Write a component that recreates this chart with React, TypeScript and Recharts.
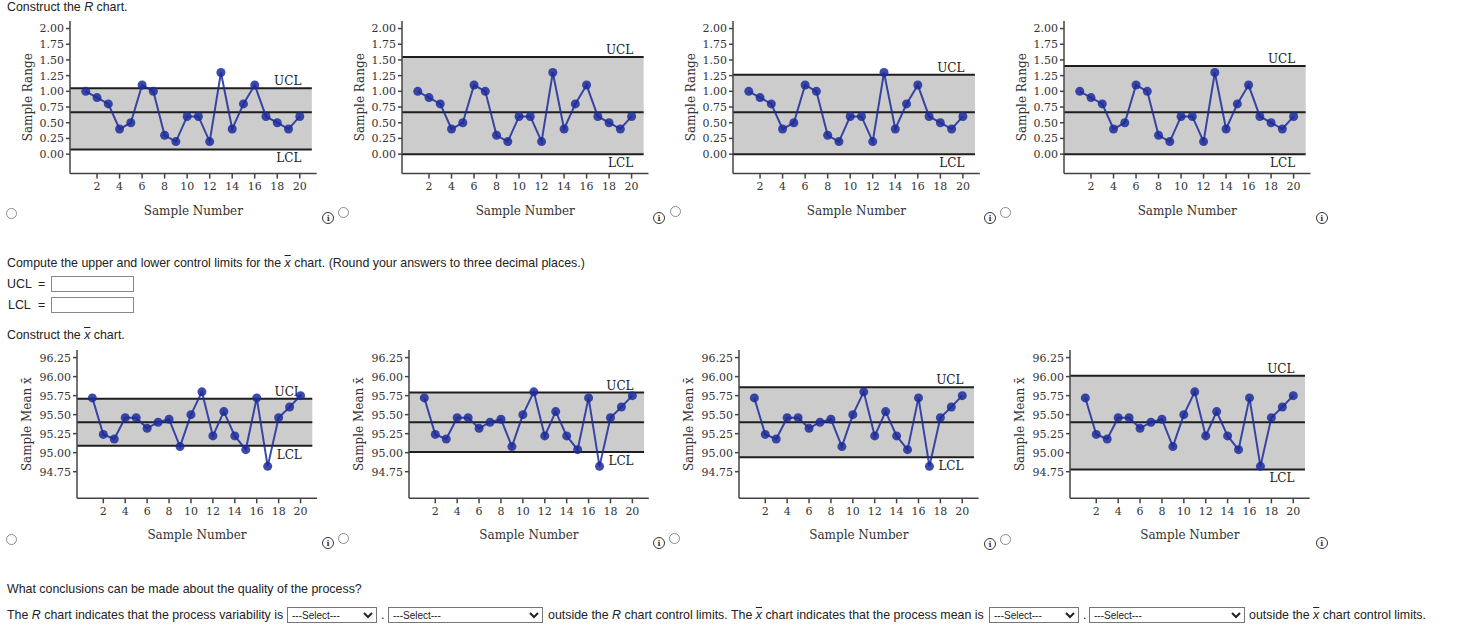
import React from 'react';
import { LineChart, Line, XAxis, YAxis, ReferenceArea, ReferenceLine } from 'recharts';

const sampleNumbers = [1, 2, 3, 4, 5, 6, 7, 8, 9, 10, 11, 12, 13, 14, 15, 16, 17, 18, 19, 20];
const sampleRanges = [1.0, 0.9, 0.8, 0.4, 0.5, 1.1, 1.0, 0.3, 0.2, 0.6, 0.6, 0.2, 1.3, 0.4, 0.8, 1.1, 0.6, 0.5, 0.4, 0.6];
const sampleMeans = [95.72, 95.24, 95.18, 95.46, 95.46, 95.32, 95.4, 95.44, 95.08, 95.5, 95.8, 95.22, 95.54, 95.22, 95.04, 95.72, 94.82, 95.46, 95.6, 95.75];

const xTicks = [2, 4, 6, 8, 10, 12, 14, 16, 18, 20];
const rangeTicks = [0, 0.25, 0.5, 0.75, 1.0, 1.25, 1.5, 1.75, 2.0];
const meanTicks = [94.75, 95.0, 95.25, 95.5, 95.75, 96.0, 96.25];

const rangeCenter = 0.665;
const rangeUclOptions = [1.05, 1.545, 1.265, 1.405];
const rangeLclOptions = [0.075, 0, 0, 0];

const meanCenter = 95.4;
const meanUclOptions = [95.71, 95.79, 95.86, 96.01];
const meanLclOptions = [95.09, 95.01, 94.94, 94.78];

const rangeData = sampleNumbers.map((n, i) => ({ x: n, v: sampleRanges[i] }));
const meanData = sampleNumbers.map((n, i) => ({ x: n, v: sampleMeans[i] }));

const SERIF = "'DejaVu Serif', serif";
const SANS = "'Liberation Sans', Arial, sans-serif";
const LINE_COLOR = '#1c2c9a';
const X_DOMAIN_MIN = -0.4;
const X_DOMAIN_MAX = 21.5;
const BAND_END = 21.07;

type ChartProps = {
  plotLeft: number;
  plotRight: number;
  plotTop: number;
  plotBottom: number;
  yAxisW: number;
  data: { x: number; v: number }[];
  yDomain: [number, number];
  yTicks: number[];
  ucl: number;
  cl: number;
  lcl: number;
  yLabel: string;
  yLabelDist: number;
};

function ControlChart(p: ChartProps) {
  const mt = 6;
  const plotW = p.plotRight - p.plotLeft;
  const plotH = p.plotBottom - p.plotTop;
  const width = p.yAxisW + plotW + 4;
  const height = plotH + mt + 50;
  const labelX = p.yAxisW - p.yLabelDist;
  const labelY = mt + plotH / 2;
  const uclLabel = (lp: any) => {
    const vb = lp.viewBox || {};
    return (
      <text x={vb.x + vb.width - 10.5} y={vb.y - 3} textAnchor="end" fontFamily={SERIF} fontSize={12} fill="#222">
        UCL
      </text>
    );
  };
  const lclLabel = (lp: any) => {
    const vb = lp.viewBox || {};
    return (
      <text x={vb.x + vb.width - 10.5} y={vb.y + 13} textAnchor="end" fontFamily={SERIF} fontSize={12} fill="#222">
        LCL
      </text>
    );
  };
  const yLab = () => (
    <text
      x={labelX}
      y={labelY}
      transform={`rotate(-90 ${labelX} ${labelY})`}
      textAnchor="middle"
      dominantBaseline="central"
      fontFamily={SERIF}
      fontSize={12}
      fill="#333"
    >
      {p.yLabel}
    </text>
  );
  const xLab = () => (
    <text
      x={p.yAxisW + plotW / 2}
      y={mt + plotH + 37}
      textAnchor="middle"
      dominantBaseline="central"
      fontFamily={SERIF}
      fontSize={12}
      fill="#333"
    >
      Sample Number
    </text>
  );
  const seg = (y: number) => [
    { x: X_DOMAIN_MIN, y },
    { x: BAND_END, y },
  ];
  return (
    <div style={{ position: 'absolute', left: p.plotLeft - p.yAxisW, top: p.plotTop - mt }}>
      <LineChart width={width} height={height} data={p.data} margin={{ top: mt, right: 4, left: 0, bottom: 0 }}>
        <XAxis
          dataKey="x"
          type="number"
          domain={[X_DOMAIN_MIN, X_DOMAIN_MAX]}
          ticks={xTicks}
          interval={0}
          allowDataOverflow
          height={50}
          tickSize={5}
          tickMargin={4}
          axisLine={{ stroke: '#444', strokeWidth: 1.5 }}
          tickLine={{ stroke: '#444', strokeWidth: 1.5 }}
          tick={{ fontFamily: SERIF, fontSize: 11, fill: '#333' }}
          label={xLab}
        />
        <YAxis
          type="number"
          domain={p.yDomain}
          ticks={p.yTicks}
          interval={0}
          allowDataOverflow
          width={p.yAxisW}
          tickSize={4}
          tickMargin={2}
          axisLine={{ stroke: '#444', strokeWidth: 1.5 }}
          tickLine={{ stroke: '#444', strokeWidth: 1.5 }}
          tick={{ fontFamily: SERIF, fontSize: 11, fill: '#333' }}
          tickFormatter={(v: number) => v.toFixed(2)}
          label={yLab}
        />
        <ReferenceArea
          x1={X_DOMAIN_MIN}
          x2={BAND_END}
          y1={p.lcl}
          y2={p.ucl}
          fill="#cccccc"
          fillOpacity={1}
          stroke="none"
          ifOverflow="visible"
        />
        <ReferenceLine segment={seg(p.ucl)} stroke="#1e1e1e" strokeWidth={2} label={uclLabel} ifOverflow="visible" />
        <ReferenceLine segment={seg(p.cl)} stroke="#1e1e1e" strokeWidth={2} ifOverflow="visible" />
        <ReferenceLine segment={seg(p.lcl)} stroke="#1e1e1e" strokeWidth={2} label={lclLabel} ifOverflow="visible" />
        <Line
          type="linear"
          dataKey="v"
          stroke={LINE_COLOR}
          strokeOpacity={0.85}
          strokeWidth={2}
          dot={{ r: 4.5, fill: LINE_COLOR, fillOpacity: 0.85, stroke: 'none' }}
          activeDot={false}
          isAnimationActive={false}
        />
      </LineChart>
    </div>
  );
}

const row1Left = [70, 401.5, 732.5, 1064];
const row1Right = [316.7, 648, 979.3, 1310.5];
const row2Left = [76.7, 408.5, 739.3, 1070.3];
const row2Right = [316.7, 648.3, 979, 1310];

const radiosRow1 = [
  [11.7, 213.3],
  [343.3, 212.3],
  [675, 211.7],
  [1005.7, 212.7],
];
const radiosRow2 = [
  [11.7, 539.3],
  [343.3, 538.3],
  [674.3, 538.3],
  [1005.7, 539.3],
];
const infosRow1 = [
  [328.3, 218],
  [659, 218],
  [990, 218],
  [1321.7, 218],
];
const infosRow2 = [
  [328, 543],
  [659, 543],
  [990, 544],
  [1321.7, 543],
];

function Radio({ cx, cy }: { cx: number; cy: number }) {
  return (
    <span
      style={{
        position: 'absolute',
        left: cx - 5.5,
        top: cy - 5.5,
        width: 9,
        height: 9,
        borderRadius: '50%',
        border: '1px solid #8a8a8a',
        background: '#fff',
      }}
    />
  );
}

function Info({ cx, cy }: { cx: number; cy: number }) {
  return (
    <span
      style={{
        position: 'absolute',
        left: cx - 6,
        top: cy - 6,
        width: 10,
        height: 10,
        borderRadius: '50%',
        border: '1px solid #333',
        fontFamily: SERIF,
        fontSize: 8,
        lineHeight: '10px',
        textAlign: 'center',
        color: '#333',
        fontWeight: 'bold',
      }}
    >
      i
    </span>
  );
}

const XBar = () => <span style={{ textDecoration: 'overline', fontStyle: 'italic' }}>x</span>;

const txt: React.CSSProperties = {
  position: 'absolute',
  fontFamily: SANS,
  fontSize: 12.4,
  lineHeight: '14px',
  color: '#222',
  whiteSpace: 'nowrap',
};

function Select({ left, width }: { left: number; width: number }) {
  return (
    <select
      style={{
        position: 'absolute',
        left,
        top: 607,
        width,
        height: 16,
        fontSize: 10,
        fontFamily: SANS,
        padding: 0,
        border: '1px solid #767676',
        borderRadius: 0,
        background: '#fff',
        color: '#222',
      }}
      defaultValue="s"
    >
      <option value="s">---Select---</option>
    </select>
  );
}

export default function App() {
  return (
    <div style={{ position: 'absolute', left: 0, top: 0, width: 1477, height: 626, background: '#fff', overflow: 'hidden' }}>
      <div style={{ ...txt, left: 7, top: 0 }}>
        Construct the <i>R</i> chart.
      </div>
      {row1Left.map((l, i) => (
        <ControlChart
          key={'r' + i}
          plotLeft={l}
          plotRight={row1Right[i]}
          plotTop={20.7}
          plotBottom={173.3}
          yAxisW={60}
          data={rangeData}
          yDomain={[-0.31, 2.12]}
          yTicks={rangeTicks}
          ucl={rangeUclOptions[i]}
          cl={rangeCenter}
          lcl={rangeLclOptions[i]}
          yLabel="Sample Range"
          yLabelDist={42}
        />
      ))}
      {radiosRow1.map(([x, y], i) => (
        <Radio key={'ra' + i} cx={x} cy={y} />
      ))}
      {infosRow1.map(([x, y], i) => (
        <Info key={'ia' + i} cx={x} cy={y} />
      ))}

      <div style={{ ...txt, left: 7, top: 256 }}>
        Compute the upper and lower control limits for the <XBar /> chart. (Round your answers to three decimal places.)
      </div>
      <div style={{ ...txt, left: 7, top: 277 }}>UCL</div>
      <div style={{ ...txt, left: 38, top: 277 }}>=</div>
      <input
        style={{ position: 'absolute', left: 51, top: 276, width: 79, height: 12, border: '1px solid #888', padding: 1, margin: 0 }}
      />
      <div style={{ ...txt, left: 8, top: 298 }}>LCL</div>
      <div style={{ ...txt, left: 38, top: 298 }}>=</div>
      <input
        style={{ position: 'absolute', left: 51, top: 297, width: 79, height: 12, border: '1px solid #888', padding: 1, margin: 0 }}
      />
      <div style={{ ...txt, left: 7, top: 328 }}>
        Construct the <XBar /> chart.
      </div>

      {row2Left.map((l, i) => (
        <ControlChart
          key={'m' + i}
          plotLeft={l}
          plotRight={row2Right[i]}
          plotTop={350}
          plotBottom={498.3}
          yAxisW={64}
          data={meanData}
          yDomain={[94.4, 96.35]}
          yTicks={meanTicks}
          ucl={meanUclOptions[i]}
          cl={meanCenter}
          lcl={meanLclOptions[i]}
          yLabel="Sample Mean x̄"
          yLabelDist={49.5}
        />
      ))}
      {radiosRow2.map(([x, y], i) => (
        <Radio key={'rb' + i} cx={x} cy={y} />
      ))}
      {infosRow2.map(([x, y], i) => (
        <Info key={'ib' + i} cx={x} cy={y} />
      ))}

      <div style={{ ...txt, left: 7, top: 582 }}>What conclusions can be made about the quality of the process?</div>
      <div style={{ ...txt, left: 7, top: 608 }}>
        The <i>R</i> chart indicates that the process variability is
      </div>
      <Select left={287} width={90} />
      <div style={{ ...txt, left: 381, top: 608 }}>.</div>
      <Select left={388} width={155} />
      <div style={{ ...txt, left: 548, top: 608 }}>
        outside the <i>R</i> chart control limits. The <XBar /> chart indicates that the process mean is
      </div>
      <Select left={989} width={90} />
      <div style={{ ...txt, left: 1083, top: 608 }}>.</div>
      <Select left={1089} width={156} />
      <div style={{ ...txt, left: 1249, top: 608 }}>
        outside the <XBar /> chart control limits.
      </div>
    </div>
  );
}
